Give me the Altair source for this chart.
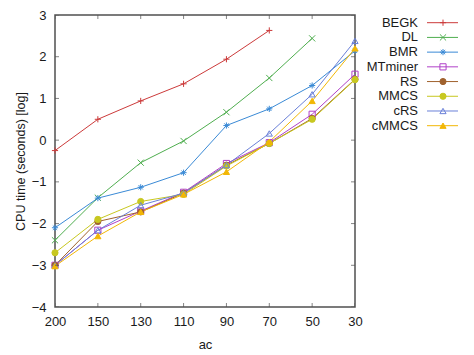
import altair as alt
import pandas as pd

AC = ["200", "150", "130", "110", "90", "70", "50", "30"]
SERIES = ["BEGK", "DL", "BMR", "MTminer", "RS", "MMCS", "cRS", "cMMCS"]
COLORS = ["#cc3a3a", "#4fae4f", "#3a8ad6", "#b040c8", "#a0622e", "#c8c820", "#6a80d8", "#f2b705"]

BEGK = [-0.25, 0.50, 0.94, 1.35, 1.94, 2.63]
DL = [-2.40, -1.38, -0.54, -0.02, 0.67, 1.49, 2.44]
BMR = [-2.10, -1.39, -1.13, -0.78, 0.35, 0.75, 1.31, 2.14]
MTMINER = [-3.00, -2.16, -1.70, -1.25, -0.56, -0.06, 0.62, 1.58]
RS = [-3.00, -1.95, -1.72, -1.27, -0.60, -0.08, 0.52, 1.46]
MMCS = [-2.70, -1.90, -1.47, -1.30, -0.62, -0.08, 0.50, 1.45]
CRS = [-3.00, -2.16, -1.56, -1.27, -0.60, 0.16, 1.10, 2.38]
CMMCS = [-3.02, -2.30, -1.72, -1.30, -0.76, -0.04, 0.94, 2.20]

VALUES = [BEGK, DL, BMR, MTMINER, RS, MMCS, CRS, CMMCS]
Y_TICKS = [-4, -3, -2, -1, 0, 1, 2, 3]

PLUS = "M-1,0L1,0M0,-1L0,1"
CROSS = "M-1,-1L1,1M-1,1L1,-1"
STAR = "M-1,0L1,0M0,-1L0,1M-0.7,-0.7L0.7,0.7M-0.7,0.7L0.7,-0.7"
SHAPES = [PLUS, CROSS, STAR, "square", "circle", "circle", "triangle-up", "triangle-up"]
FILLS = ["transparent", "transparent", "transparent", "transparent",
         COLORS[4], COLORS[5], "transparent", COLORS[7]]

rows = []
for s, vals in zip(SERIES, VALUES):
    for a, v in zip(AC, vals):
        rows.append({"series": s, "ac": a, "t": v, "order": SERIES.index(s)})
df = pd.DataFrame(rows)

FONT = "Liberation Sans"
FS = 13
TXT = "#1a1a1a"
FRAME = "#505050"
MS = 38

xs = alt.X("ac:N", sort=AC, scale=alt.Scale(type="point", domain=AC, padding=0),
           axis=alt.Axis(title="ac", ticks=False, domain=False, labelAngle=0,
                         labelPadding=8, labelFontSize=FS, labelFont=FONT,
                         labelColor=TXT, titleFont=FONT, titleFontSize=FS,
                         titleFontWeight="normal", titleColor=TXT,
                         titleX=150, titleY=37, titleBaseline="middle"))
ys = alt.Y("t:Q", scale=alt.Scale(domain=[-4, 3], nice=False, zero=False),
           axis=alt.Axis(title="CPU time (seconds) [log]", values=Y_TICKS,
                         ticks=False, domain=False, grid=False, labelPadding=9,
                         labelFontSize=FS, labelFont=FONT, labelColor=TXT,
                         titleFont=FONT, titleFontSize=12.5, titleFontWeight="normal",
                         titleColor=TXT, titleX=-35, titleY=146,
                         titleBaseline="middle"))

color = alt.Color("series:N", scale=alt.Scale(domain=SERIES, range=COLORS), legend=None)
stroke = alt.Stroke("series:N", scale=alt.Scale(domain=SERIES, range=COLORS), legend=None)
fill = alt.Fill("series:N", scale=alt.Scale(domain=SERIES, range=FILLS), legend=None)
shape = alt.Shape("series:N", scale=alt.Scale(domain=SERIES, range=SHAPES), legend=None)

base = alt.Chart(df)
lines = base.mark_line(strokeWidth=1).encode(
    x=xs, y=ys, color=color, detail="series:N", order="order:Q")
points = base.mark_point(size=MS, strokeWidth=1, opacity=1).encode(
    x=alt.X("ac:N", sort=AC), y="t:Q", stroke=stroke, fill=fill, shape=shape)

xt = pd.DataFrame({"ac": AC})
xt_b = alt.Chart(xt).mark_tick(orient="vertical", size=8, thickness=1,
                               color=FRAME, clip=True).encode(
    x=alt.X("ac:N", sort=AC), y=alt.datum(-4))
xt_t = alt.Chart(xt).mark_tick(orient="vertical", size=8, thickness=1,
                               color=FRAME, clip=True).encode(
    x=alt.X("ac:N", sort=AC), y=alt.datum(3))
yt = pd.DataFrame({"t": Y_TICKS})
yt_l = alt.Chart(yt).mark_tick(orient="horizontal", size=8, thickness=1,
                               color=FRAME, clip=True).encode(
    y="t:Q", x=alt.datum(AC[0]))
yt_r = alt.Chart(yt).mark_tick(orient="horizontal", size=8, thickness=1,
                               color=FRAME, clip=True).encode(
    y="t:Q", x=alt.datum(AC[-1]))

main = alt.layer(lines, points, xt_b, xt_t, yt_l, yt_r)

leg_df = pd.DataFrame({"series": SERIES})
ly = alt.Y("series:N", sort=SERIES,
           scale=alt.Scale(type="point", domain=SERIES, range=[7.7, 110.7], padding=0),
           axis=None)
leg_base = alt.Chart(leg_df)
leg_text = leg_base.mark_text(align="right", baseline="middle", fontSize=FS,
                              font=FONT, color=TXT).encode(
    y=ly, x=alt.value(363), text="series:N")
leg_rule = leg_base.mark_rule(strokeWidth=1).encode(
    y=ly, x=alt.value(372), x2=alt.value(403), color=color)
leg_pts = leg_base.mark_point(size=MS, strokeWidth=1, opacity=1).encode(
    y=ly, x=alt.value(388), stroke=stroke, fill=fill, shape=shape)
legend = alt.layer(leg_rule, leg_pts, leg_text)

chart = alt.layer(main, legend).resolve_scale(y="independent").properties(
    width=300, height=292,
    autosize=alt.AutoSizeParams(type="none"),
    padding={"left": 55, "top": 15, "right": 119, "bottom": 48},
    background="white",
).configure_view(stroke=FRAME, strokeWidth=1.5)

chart.save("out.html", embed_options={"renderer": "svg", "actions": False})
